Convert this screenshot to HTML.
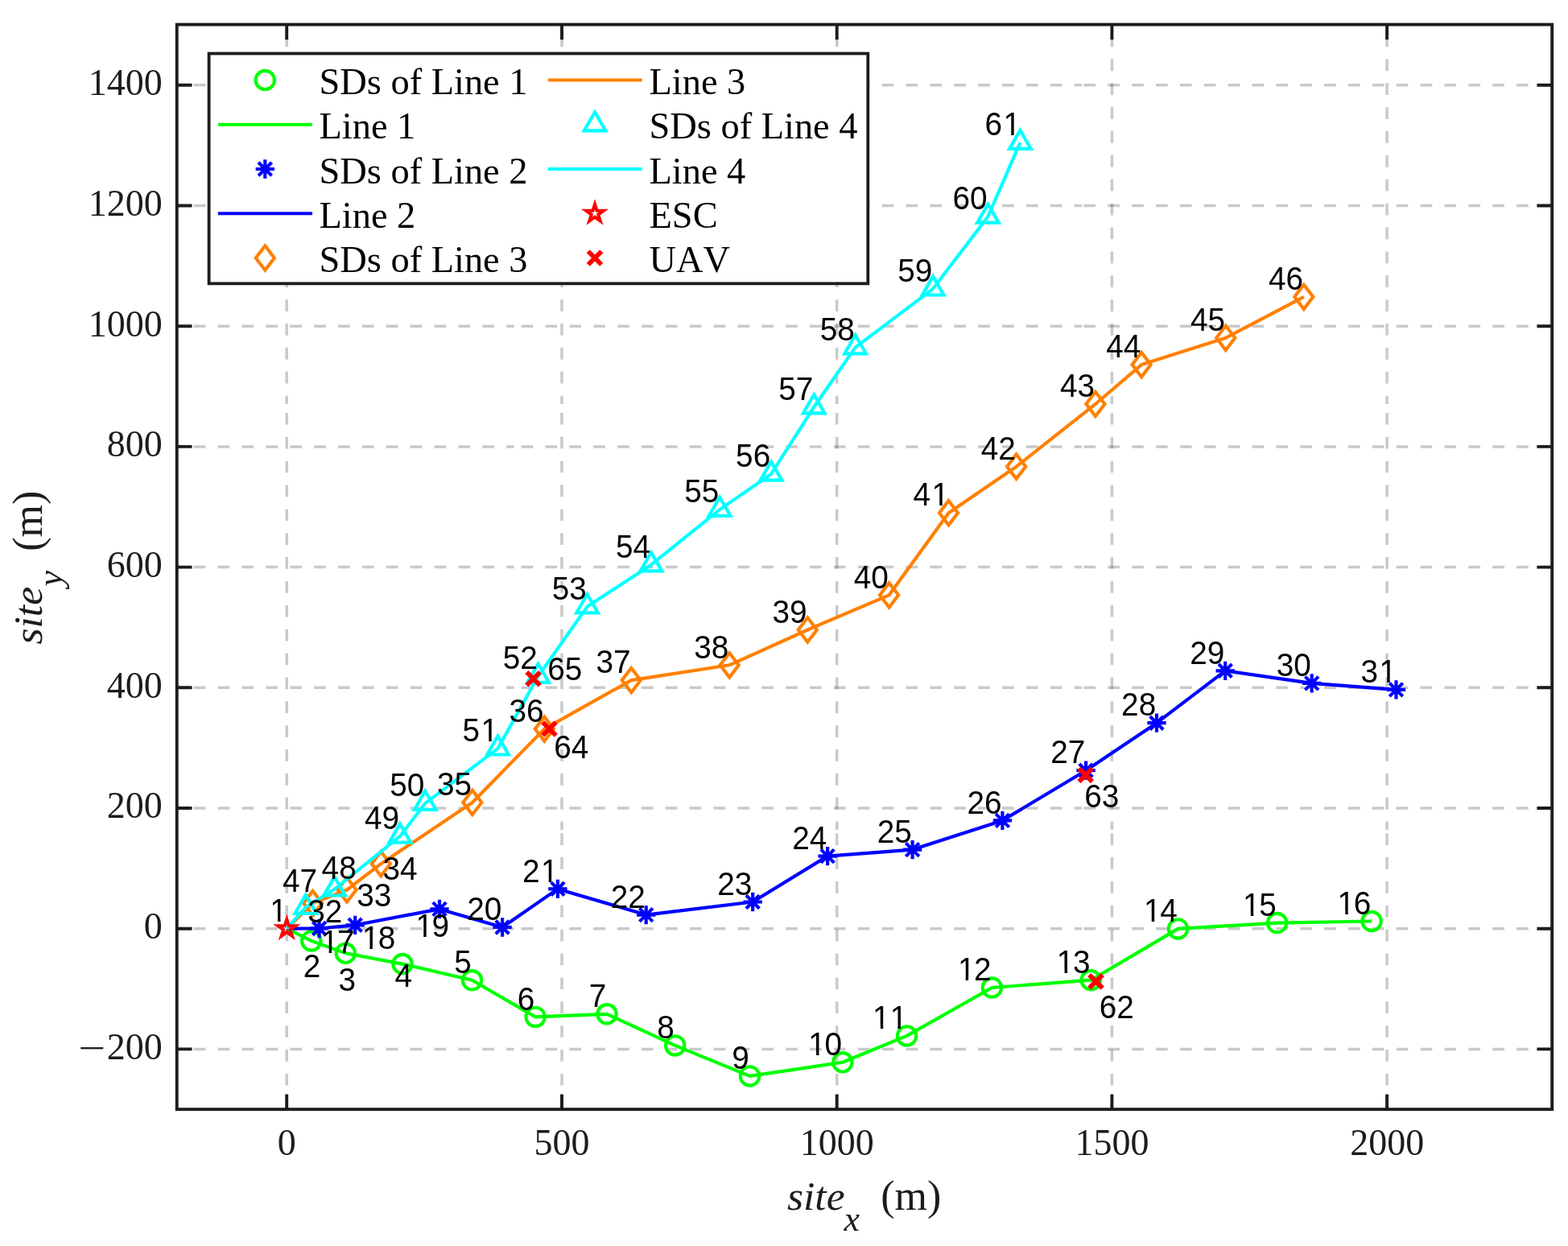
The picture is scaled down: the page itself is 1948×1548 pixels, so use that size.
<!DOCTYPE html>
<html lang="en"><head><meta charset="utf-8"><title>Site layout of lines, SDs, ESC and UAV</title>
<style>html,body{margin:0;padding:0;background:#fff}body{width:1948px;height:1548px;overflow:hidden}svg{display:block}text{font-kerning:none}.tk{font-family:"Liberation Serif",serif;font-size:46px;fill:#1c1c1c}.lg{font-family:"Liberation Serif",serif;font-size:46.4px;fill:#000}.dl{font-family:"Liberation Sans",sans-serif;font-size:41.3px;fill:#000;font-kerning:none}.al{font-family:"Liberation Serif",serif;fill:#1c1c1c}</style></head><body>
<svg width="1948" height="1548" viewBox="0 0 1948 1548" role="img" aria-label="Site layout plot">
<rect width="1948" height="1548" fill="#fff"/>
<path fill="none" stroke="#262626" stroke-opacity="0.25" stroke-width="3.5" d="M356.2 43.63V58.33M356.2 73.5V88.2M356.2 103.37V118.07M356.2 133.24V147.94M356.2 163.11V177.81M356.2 192.98V207.68M356.2 222.85V237.55M356.2 252.72V267.42M356.2 282.59V297.29M356.2 312.46V327.16M356.2 342.33V357.03M356.2 372.2V386.9M356.2 402.07V416.77M356.2 431.94V446.64M356.2 461.81V476.51M356.2 491.68V502M356.2 512.9V527.6M356.2 542.77V557.47M356.2 572.64V587.34M356.2 602.51V617.21M356.2 632.38V647.08M356.2 662.25V676.95M356.2 692.12V706.82M356.2 721.99V736.69M356.2 751.86V766.56M356.2 781.73V796.43M356.2 811.6V826.3M356.2 841.47V856.17M356.2 871.34V886.04M356.2 901.21V915.91M356.2 931.08V945.78M356.2 960.95V975.65M356.2 990.82V1005.52M356.2 1020.69V1031M356.2 1035.2V1049.9M356.2 1065.07V1079.77M356.2 1094.94V1109.64M356.2 1124.81V1139.51M356.2 1154.68V1169.38M356.2 1184.55V1199.25M356.2 1214.42V1229.12M356.2 1244.29V1258.99M356.2 1274.16V1288.86M356.2 1304.03V1318.73M356.2 1333.9V1348.6M356.2 1363.77V1378.2M698 43.63V58.33M698 73.5V88.2M698 103.37V118.07M698 133.24V147.94M698 163.11V177.81M698 192.98V207.68M698 222.85V237.55M698 252.72V267.42M698 282.59V297.29M698 312.46V327.16M698 342.33V357.03M698 372.2V386.9M698 402.07V416.77M698 431.94V446.64M698 461.81V476.51M698 491.68V502M698 512.9V527.6M698 542.77V557.47M698 572.64V587.34M698 602.51V617.21M698 632.38V647.08M698 662.25V676.95M698 692.12V706.82M698 721.99V736.69M698 751.86V766.56M698 781.73V796.43M698 811.6V826.3M698 841.47V856.17M698 871.34V886.04M698 901.21V915.91M698 931.08V945.78M698 960.95V975.65M698 990.82V1005.52M698 1020.69V1031M698 1035.2V1049.9M698 1065.07V1079.77M698 1094.94V1109.64M698 1124.81V1139.51M698 1154.68V1169.38M698 1184.55V1199.25M698 1214.42V1229.12M698 1244.29V1258.99M698 1274.16V1288.86M698 1304.03V1318.73M698 1333.9V1348.6M698 1363.77V1378.2M1039.7 43.63V58.33M1039.7 73.5V88.2M1039.7 103.37V118.07M1039.7 133.24V147.94M1039.7 163.11V177.81M1039.7 192.98V207.68M1039.7 222.85V237.55M1039.7 252.72V267.42M1039.7 282.59V297.29M1039.7 312.46V327.16M1039.7 342.33V357.03M1039.7 372.2V386.9M1039.7 402.07V416.77M1039.7 431.94V446.64M1039.7 461.81V476.51M1039.7 491.68V502M1039.7 512.9V527.6M1039.7 542.77V557.47M1039.7 572.64V587.34M1039.7 602.51V617.21M1039.7 632.38V647.08M1039.7 662.25V676.95M1039.7 692.12V706.82M1039.7 721.99V736.69M1039.7 751.86V766.56M1039.7 781.73V796.43M1039.7 811.6V826.3M1039.7 841.47V856.17M1039.7 871.34V886.04M1039.7 901.21V915.91M1039.7 931.08V945.78M1039.7 960.95V975.65M1039.7 990.82V1005.52M1039.7 1020.69V1031M1039.7 1035.2V1049.9M1039.7 1065.07V1079.77M1039.7 1094.94V1109.64M1039.7 1124.81V1139.51M1039.7 1154.68V1169.38M1039.7 1184.55V1199.25M1039.7 1214.42V1229.12M1039.7 1244.29V1258.99M1039.7 1274.16V1288.86M1039.7 1304.03V1318.73M1039.7 1333.9V1348.6M1039.7 1363.77V1378.2M1381.4 43.63V58.33M1381.4 73.5V88.2M1381.4 103.37V118.07M1381.4 133.24V147.94M1381.4 163.11V177.81M1381.4 192.98V207.68M1381.4 222.85V237.55M1381.4 252.72V267.42M1381.4 282.59V297.29M1381.4 312.46V327.16M1381.4 342.33V357.03M1381.4 372.2V386.9M1381.4 402.07V416.77M1381.4 431.94V446.64M1381.4 461.81V476.51M1381.4 491.68V502M1381.4 512.9V527.6M1381.4 542.77V557.47M1381.4 572.64V587.34M1381.4 602.51V617.21M1381.4 632.38V647.08M1381.4 662.25V676.95M1381.4 692.12V706.82M1381.4 721.99V736.69M1381.4 751.86V766.56M1381.4 781.73V796.43M1381.4 811.6V826.3M1381.4 841.47V856.17M1381.4 871.34V886.04M1381.4 901.21V915.91M1381.4 931.08V945.78M1381.4 960.95V975.65M1381.4 990.82V1005.52M1381.4 1020.69V1031M1381.4 1035.2V1049.9M1381.4 1065.07V1079.77M1381.4 1094.94V1109.64M1381.4 1124.81V1139.51M1381.4 1154.68V1169.38M1381.4 1184.55V1199.25M1381.4 1214.42V1229.12M1381.4 1244.29V1258.99M1381.4 1274.16V1288.86M1381.4 1304.03V1318.73M1381.4 1333.9V1348.6M1381.4 1363.77V1378.2M1723.1 43.63V58.33M1723.1 73.5V88.2M1723.1 103.37V118.07M1723.1 133.24V147.94M1723.1 163.11V177.81M1723.1 192.98V207.68M1723.1 222.85V237.55M1723.1 252.72V267.42M1723.1 282.59V297.29M1723.1 312.46V327.16M1723.1 342.33V357.03M1723.1 372.2V386.9M1723.1 402.07V416.77M1723.1 431.94V446.64M1723.1 461.81V476.51M1723.1 491.68V502M1723.1 512.9V527.6M1723.1 542.77V557.47M1723.1 572.64V587.34M1723.1 602.51V617.21M1723.1 632.38V647.08M1723.1 662.25V676.95M1723.1 692.12V706.82M1723.1 721.99V736.69M1723.1 751.86V766.56M1723.1 781.73V796.43M1723.1 811.6V826.3M1723.1 841.47V856.17M1723.1 871.34V886.04M1723.1 901.21V915.91M1723.1 931.08V945.78M1723.1 960.95V975.65M1723.1 990.82V1005.52M1723.1 1020.69V1031M1723.1 1035.2V1049.9M1723.1 1065.07V1079.77M1723.1 1094.94V1109.64M1723.1 1124.81V1139.51M1723.1 1154.68V1169.38M1723.1 1184.55V1199.25M1723.1 1214.42V1229.12M1723.1 1244.29V1258.99M1723.1 1274.16V1288.86M1723.1 1304.03V1318.73M1723.1 1333.9V1348.6M1723.1 1363.77V1378.2"/>
<path fill="none" stroke="#262626" stroke-opacity="0.25" stroke-width="3.5" d="M219.75 105.8H225.63M240.8 105.8H255.5M270.67 105.8H285.37M300.54 105.8H315.24M330.41 105.8H345.11M360.28 105.8H374.98M390.15 105.8H404.85M420.02 105.8H434.72M449.89 105.8H464.59M479.76 105.8H494.46M509.63 105.8H524.33M539.5 105.8H554.2M569.37 105.8H584.07M599.24 105.8H613.94M629.11 105.8H638.6M647.6 105.8H662.3M677.47 105.8H692.17M707.34 105.8H722.04M737.21 105.8H751.91M767.08 105.8H781.78M796.95 105.8H811.65M826.82 105.8H841.52M856.69 105.8H871.39M886.56 105.8H901.26M916.43 105.8H931.13M946.3 105.8H961M976.17 105.8H990.87M1006.04 105.8H1020.74M1035.91 105.8H1050.61M1065.78 105.8H1080.48M1095.65 105.8H1110.35M1125.52 105.8H1140.22M1155.39 105.8H1170.09M1185.26 105.8H1199.96M1215.13 105.8H1229.83M1245 105.8H1259.7M1274.87 105.8H1289.57M1304.74 105.8H1319.44M1334.61 105.8H1343.9M1346.4 105.8H1361.1M1376.27 105.8H1390.97M1406.14 105.8H1420.84M1436.01 105.8H1450.71M1465.88 105.8H1480.58M1495.75 105.8H1510.45M1525.62 105.8H1540.32M1555.49 105.8H1570.19M1585.36 105.8H1600.06M1615.23 105.8H1629.93M1645.1 105.8H1659.8M1674.97 105.8H1689.67M1704.84 105.8H1719.54M1734.71 105.8H1749.41M1764.58 105.8H1779.28M1794.45 105.8H1809.15M1824.32 105.8H1839.02M1854.19 105.8H1868.89M1884.06 105.8H1898.76M1913.93 105.8H1928.2M219.75 255.5H225.63M240.8 255.5H255.5M270.67 255.5H285.37M300.54 255.5H315.24M330.41 255.5H345.11M360.28 255.5H374.98M390.15 255.5H404.85M420.02 255.5H434.72M449.89 255.5H464.59M479.76 255.5H494.46M509.63 255.5H524.33M539.5 255.5H554.2M569.37 255.5H584.07M599.24 255.5H613.94M629.11 255.5H638.6M647.6 255.5H662.3M677.47 255.5H692.17M707.34 255.5H722.04M737.21 255.5H751.91M767.08 255.5H781.78M796.95 255.5H811.65M826.82 255.5H841.52M856.69 255.5H871.39M886.56 255.5H901.26M916.43 255.5H931.13M946.3 255.5H961M976.17 255.5H990.87M1006.04 255.5H1020.74M1035.91 255.5H1050.61M1065.78 255.5H1080.48M1095.65 255.5H1110.35M1125.52 255.5H1140.22M1155.39 255.5H1170.09M1185.26 255.5H1199.96M1215.13 255.5H1229.83M1245 255.5H1259.7M1274.87 255.5H1289.57M1304.74 255.5H1319.44M1334.61 255.5H1343.9M1346.4 255.5H1361.1M1376.27 255.5H1390.97M1406.14 255.5H1420.84M1436.01 255.5H1450.71M1465.88 255.5H1480.58M1495.75 255.5H1510.45M1525.62 255.5H1540.32M1555.49 255.5H1570.19M1585.36 255.5H1600.06M1615.23 255.5H1629.93M1645.1 255.5H1659.8M1674.97 255.5H1689.67M1704.84 255.5H1719.54M1734.71 255.5H1749.41M1764.58 255.5H1779.28M1794.45 255.5H1809.15M1824.32 255.5H1839.02M1854.19 255.5H1868.89M1884.06 255.5H1898.76M1913.93 255.5H1928.2M219.75 405.2H225.63M240.8 405.2H255.5M270.67 405.2H285.37M300.54 405.2H315.24M330.41 405.2H345.11M360.28 405.2H374.98M390.15 405.2H404.85M420.02 405.2H434.72M449.89 405.2H464.59M479.76 405.2H494.46M509.63 405.2H524.33M539.5 405.2H554.2M569.37 405.2H584.07M599.24 405.2H613.94M629.11 405.2H638.6M647.6 405.2H662.3M677.47 405.2H692.17M707.34 405.2H722.04M737.21 405.2H751.91M767.08 405.2H781.78M796.95 405.2H811.65M826.82 405.2H841.52M856.69 405.2H871.39M886.56 405.2H901.26M916.43 405.2H931.13M946.3 405.2H961M976.17 405.2H990.87M1006.04 405.2H1020.74M1035.91 405.2H1050.61M1065.78 405.2H1080.48M1095.65 405.2H1110.35M1125.52 405.2H1140.22M1155.39 405.2H1170.09M1185.26 405.2H1199.96M1215.13 405.2H1229.83M1245 405.2H1259.7M1274.87 405.2H1289.57M1304.74 405.2H1319.44M1334.61 405.2H1343.9M1346.4 405.2H1361.1M1376.27 405.2H1390.97M1406.14 405.2H1420.84M1436.01 405.2H1450.71M1465.88 405.2H1480.58M1495.75 405.2H1510.45M1525.62 405.2H1540.32M1555.49 405.2H1570.19M1585.36 405.2H1600.06M1615.23 405.2H1629.93M1645.1 405.2H1659.8M1674.97 405.2H1689.67M1704.84 405.2H1719.54M1734.71 405.2H1749.41M1764.58 405.2H1779.28M1794.45 405.2H1809.15M1824.32 405.2H1839.02M1854.19 405.2H1868.89M1884.06 405.2H1898.76M1913.93 405.2H1928.2M219.75 554.9H225.63M240.8 554.9H255.5M270.67 554.9H285.37M300.54 554.9H315.24M330.41 554.9H345.11M360.28 554.9H374.98M390.15 554.9H404.85M420.02 554.9H434.72M449.89 554.9H464.59M479.76 554.9H494.46M509.63 554.9H524.33M539.5 554.9H554.2M569.37 554.9H584.07M599.24 554.9H613.94M629.11 554.9H638.6M647.6 554.9H662.3M677.47 554.9H692.17M707.34 554.9H722.04M737.21 554.9H751.91M767.08 554.9H781.78M796.95 554.9H811.65M826.82 554.9H841.52M856.69 554.9H871.39M886.56 554.9H901.26M916.43 554.9H931.13M946.3 554.9H961M976.17 554.9H990.87M1006.04 554.9H1020.74M1035.91 554.9H1050.61M1065.78 554.9H1080.48M1095.65 554.9H1110.35M1125.52 554.9H1140.22M1155.39 554.9H1170.09M1185.26 554.9H1199.96M1215.13 554.9H1229.83M1245 554.9H1259.7M1274.87 554.9H1289.57M1304.74 554.9H1319.44M1334.61 554.9H1343.9M1346.4 554.9H1361.1M1376.27 554.9H1390.97M1406.14 554.9H1420.84M1436.01 554.9H1450.71M1465.88 554.9H1480.58M1495.75 554.9H1510.45M1525.62 554.9H1540.32M1555.49 554.9H1570.19M1585.36 554.9H1600.06M1615.23 554.9H1629.93M1645.1 554.9H1659.8M1674.97 554.9H1689.67M1704.84 554.9H1719.54M1734.71 554.9H1749.41M1764.58 554.9H1779.28M1794.45 554.9H1809.15M1824.32 554.9H1839.02M1854.19 554.9H1868.89M1884.06 554.9H1898.76M1913.93 554.9H1928.2M219.75 704.6H225.63M240.8 704.6H255.5M270.67 704.6H285.37M300.54 704.6H315.24M330.41 704.6H345.11M360.28 704.6H374.98M390.15 704.6H404.85M420.02 704.6H434.72M449.89 704.6H464.59M479.76 704.6H494.46M509.63 704.6H524.33M539.5 704.6H554.2M569.37 704.6H584.07M599.24 704.6H613.94M629.11 704.6H638.6M647.6 704.6H662.3M677.47 704.6H692.17M707.34 704.6H722.04M737.21 704.6H751.91M767.08 704.6H781.78M796.95 704.6H811.65M826.82 704.6H841.52M856.69 704.6H871.39M886.56 704.6H901.26M916.43 704.6H931.13M946.3 704.6H961M976.17 704.6H990.87M1006.04 704.6H1020.74M1035.91 704.6H1050.61M1065.78 704.6H1080.48M1095.65 704.6H1110.35M1125.52 704.6H1140.22M1155.39 704.6H1170.09M1185.26 704.6H1199.96M1215.13 704.6H1229.83M1245 704.6H1259.7M1274.87 704.6H1289.57M1304.74 704.6H1319.44M1334.61 704.6H1343.9M1346.4 704.6H1361.1M1376.27 704.6H1390.97M1406.14 704.6H1420.84M1436.01 704.6H1450.71M1465.88 704.6H1480.58M1495.75 704.6H1510.45M1525.62 704.6H1540.32M1555.49 704.6H1570.19M1585.36 704.6H1600.06M1615.23 704.6H1629.93M1645.1 704.6H1659.8M1674.97 704.6H1689.67M1704.84 704.6H1719.54M1734.71 704.6H1749.41M1764.58 704.6H1779.28M1794.45 704.6H1809.15M1824.32 704.6H1839.02M1854.19 704.6H1868.89M1884.06 704.6H1898.76M1913.93 704.6H1928.2M219.75 854.3H225.63M240.8 854.3H255.5M270.67 854.3H285.37M300.54 854.3H315.24M330.41 854.3H345.11M360.28 854.3H374.98M390.15 854.3H404.85M420.02 854.3H434.72M449.89 854.3H464.59M479.76 854.3H494.46M509.63 854.3H524.33M539.5 854.3H554.2M569.37 854.3H584.07M599.24 854.3H613.94M629.11 854.3H638.6M647.6 854.3H662.3M677.47 854.3H692.17M707.34 854.3H722.04M737.21 854.3H751.91M767.08 854.3H781.78M796.95 854.3H811.65M826.82 854.3H841.52M856.69 854.3H871.39M886.56 854.3H901.26M916.43 854.3H931.13M946.3 854.3H961M976.17 854.3H990.87M1006.04 854.3H1020.74M1035.91 854.3H1050.61M1065.78 854.3H1080.48M1095.65 854.3H1110.35M1125.52 854.3H1140.22M1155.39 854.3H1170.09M1185.26 854.3H1199.96M1215.13 854.3H1229.83M1245 854.3H1259.7M1274.87 854.3H1289.57M1304.74 854.3H1319.44M1334.61 854.3H1343.9M1346.4 854.3H1361.1M1376.27 854.3H1390.97M1406.14 854.3H1420.84M1436.01 854.3H1450.71M1465.88 854.3H1480.58M1495.75 854.3H1510.45M1525.62 854.3H1540.32M1555.49 854.3H1570.19M1585.36 854.3H1600.06M1615.23 854.3H1629.93M1645.1 854.3H1659.8M1674.97 854.3H1689.67M1704.84 854.3H1719.54M1734.71 854.3H1749.41M1764.58 854.3H1779.28M1794.45 854.3H1809.15M1824.32 854.3H1839.02M1854.19 854.3H1868.89M1884.06 854.3H1898.76M1913.93 854.3H1928.2M219.75 1004H225.63M240.8 1004H255.5M270.67 1004H285.37M300.54 1004H315.24M330.41 1004H345.11M360.28 1004H374.98M390.15 1004H404.85M420.02 1004H434.72M449.89 1004H464.59M479.76 1004H494.46M509.63 1004H524.33M539.5 1004H554.2M569.37 1004H584.07M599.24 1004H613.94M629.11 1004H638.6M647.6 1004H662.3M677.47 1004H692.17M707.34 1004H722.04M737.21 1004H751.91M767.08 1004H781.78M796.95 1004H811.65M826.82 1004H841.52M856.69 1004H871.39M886.56 1004H901.26M916.43 1004H931.13M946.3 1004H961M976.17 1004H990.87M1006.04 1004H1020.74M1035.91 1004H1050.61M1065.78 1004H1080.48M1095.65 1004H1110.35M1125.52 1004H1140.22M1155.39 1004H1170.09M1185.26 1004H1199.96M1215.13 1004H1229.83M1245 1004H1259.7M1274.87 1004H1289.57M1304.74 1004H1319.44M1334.61 1004H1343.9M1346.4 1004H1361.1M1376.27 1004H1390.97M1406.14 1004H1420.84M1436.01 1004H1450.71M1465.88 1004H1480.58M1495.75 1004H1510.45M1525.62 1004H1540.32M1555.49 1004H1570.19M1585.36 1004H1600.06M1615.23 1004H1629.93M1645.1 1004H1659.8M1674.97 1004H1689.67M1704.84 1004H1719.54M1734.71 1004H1749.41M1764.58 1004H1779.28M1794.45 1004H1809.15M1824.32 1004H1839.02M1854.19 1004H1868.89M1884.06 1004H1898.76M1913.93 1004H1928.2M219.75 1153.7H225.63M240.8 1153.7H255.5M270.67 1153.7H285.37M300.54 1153.7H315.24M330.41 1153.7H345.11M360.28 1153.7H374.98M390.15 1153.7H404.85M420.02 1153.7H434.72M449.89 1153.7H464.59M479.76 1153.7H494.46M509.63 1153.7H524.33M539.5 1153.7H554.2M569.37 1153.7H584.07M599.24 1153.7H613.94M629.11 1153.7H638.6M647.6 1153.7H662.3M677.47 1153.7H692.17M707.34 1153.7H722.04M737.21 1153.7H751.91M767.08 1153.7H781.78M796.95 1153.7H811.65M826.82 1153.7H841.52M856.69 1153.7H871.39M886.56 1153.7H901.26M916.43 1153.7H931.13M946.3 1153.7H961M976.17 1153.7H990.87M1006.04 1153.7H1020.74M1035.91 1153.7H1050.61M1065.78 1153.7H1080.48M1095.65 1153.7H1110.35M1125.52 1153.7H1140.22M1155.39 1153.7H1170.09M1185.26 1153.7H1199.96M1215.13 1153.7H1229.83M1245 1153.7H1259.7M1274.87 1153.7H1289.57M1304.74 1153.7H1319.44M1334.61 1153.7H1343.9M1346.4 1153.7H1361.1M1376.27 1153.7H1390.97M1406.14 1153.7H1420.84M1436.01 1153.7H1450.71M1465.88 1153.7H1480.58M1495.75 1153.7H1510.45M1525.62 1153.7H1540.32M1555.49 1153.7H1570.19M1585.36 1153.7H1600.06M1615.23 1153.7H1629.93M1645.1 1153.7H1659.8M1674.97 1153.7H1689.67M1704.84 1153.7H1719.54M1734.71 1153.7H1749.41M1764.58 1153.7H1779.28M1794.45 1153.7H1809.15M1824.32 1153.7H1839.02M1854.19 1153.7H1868.89M1884.06 1153.7H1898.76M1913.93 1153.7H1928.2M219.75 1303.4H225.63M240.8 1303.4H255.5M270.67 1303.4H285.37M300.54 1303.4H315.24M330.41 1303.4H345.11M360.28 1303.4H374.98M390.15 1303.4H404.85M420.02 1303.4H434.72M449.89 1303.4H464.59M479.76 1303.4H494.46M509.63 1303.4H524.33M539.5 1303.4H554.2M569.37 1303.4H584.07M599.24 1303.4H613.94M629.11 1303.4H638.6M647.6 1303.4H662.3M677.47 1303.4H692.17M707.34 1303.4H722.04M737.21 1303.4H751.91M767.08 1303.4H781.78M796.95 1303.4H811.65M826.82 1303.4H841.52M856.69 1303.4H871.39M886.56 1303.4H901.26M916.43 1303.4H931.13M946.3 1303.4H961M976.17 1303.4H990.87M1006.04 1303.4H1020.74M1035.91 1303.4H1050.61M1065.78 1303.4H1080.48M1095.65 1303.4H1110.35M1125.52 1303.4H1140.22M1155.39 1303.4H1170.09M1185.26 1303.4H1199.96M1215.13 1303.4H1229.83M1245 1303.4H1259.7M1274.87 1303.4H1289.57M1304.74 1303.4H1319.44M1334.61 1303.4H1343.9M1346.4 1303.4H1361.1M1376.27 1303.4H1390.97M1406.14 1303.4H1420.84M1436.01 1303.4H1450.71M1465.88 1303.4H1480.58M1495.75 1303.4H1510.45M1525.62 1303.4H1540.32M1555.49 1303.4H1570.19M1585.36 1303.4H1600.06M1615.23 1303.4H1629.93M1645.1 1303.4H1659.8M1674.97 1303.4H1689.67M1704.84 1303.4H1719.54M1734.71 1303.4H1749.41M1764.58 1303.4H1779.28M1794.45 1303.4H1809.15M1824.32 1303.4H1839.02M1854.19 1303.4H1868.89M1884.06 1303.4H1898.76M1913.93 1303.4H1928.2"/>
<g fill="none" stroke="#1c1c1c" stroke-width="3.9">
<rect x="219.75" y="30.5" width="1708.45" height="1347.7"/>
<path d="M356.2 1378.2v-18.8M356.2 30.5v18.8M698 1378.2v-18.8M698 30.5v18.8M1039.7 1378.2v-18.8M1039.7 30.5v18.8M1381.4 1378.2v-18.8M1381.4 30.5v18.8M1723.1 1378.2v-18.8M1723.1 30.5v18.8M219.75 105.8h18.8M1928.2 105.8h-18.8M219.75 255.5h18.8M1928.2 255.5h-18.8M219.75 405.2h18.8M1928.2 405.2h-18.8M219.75 554.9h18.8M1928.2 554.9h-18.8M219.75 704.6h18.8M1928.2 704.6h-18.8M219.75 854.3h18.8M1928.2 854.3h-18.8M219.75 1004h18.8M1928.2 1004h-18.8M219.75 1153.7h18.8M1928.2 1153.7h-18.8M219.75 1303.4h18.8M1928.2 1303.4h-18.8"/>
</g>
<g fill="none" stroke="#00ff00" stroke-width="4.17" ><circle cx="386.8" cy="1168.9" r="11.67"/><circle cx="429.3" cy="1184.3" r="11.67"/><circle cx="500" cy="1197.6" r="11.67"/><circle cx="586.5" cy="1217.8" r="11.67"/><circle cx="665.1" cy="1263.4" r="11.67"/><circle cx="754" cy="1259.8" r="11.67"/><circle cx="838.7" cy="1298.9" r="11.67"/><circle cx="931.5" cy="1336.9" r="11.67"/><circle cx="1046.8" cy="1319.8" r="11.67"/><circle cx="1126.6" cy="1286.9" r="11.67"/><circle cx="1232.4" cy="1227" r="11.67"/><circle cx="1355.3" cy="1217.7" r="11.67"/><circle cx="1463.5" cy="1153.9" r="11.67"/><circle cx="1586.6" cy="1146.6" r="11.67"/><circle cx="1704.1" cy="1144.5" r="11.67"/></g>
<g fill="none" stroke="#00ff00" stroke-width="4.17" stroke-linejoin="round"><path d="M356.3 1153.7L386.8 1168.9L429.3 1184.3L500 1197.6L586.5 1217.8L665.1 1263.4L754 1259.8L838.7 1298.9L931.5 1336.9L1046.8 1319.8L1126.6 1286.9L1232.4 1227L1355.3 1217.7L1463.5 1153.9L1586.6 1146.6L1704.1 1144.5"/></g>
<g fill="none" stroke="#0000ff" stroke-width="4.17" ><path d="M384.93 1153.5L408.27 1153.5M388.35 1145.25L404.85 1161.75M396.6 1141.83L396.6 1165.17M404.85 1145.25L388.35 1161.75"/><path d="M429.53 1149.3L452.87 1149.3M432.95 1141.05L449.45 1157.55M441.2 1137.63L441.2 1160.97M449.45 1141.05L432.95 1157.55"/><path d="M534.33 1129.4L557.67 1129.4M537.75 1121.15L554.25 1137.65M546 1117.73L546 1141.07M554.25 1121.15L537.75 1137.65"/><path d="M612.43 1152L635.77 1152M615.85 1143.75L632.35 1160.25M624.1 1140.33L624.1 1163.67M632.35 1143.75L615.85 1160.25"/><path d="M681.23 1104.4L704.57 1104.4M684.65 1096.15L701.15 1112.65M692.9 1092.73L692.9 1116.07M701.15 1096.15L684.65 1112.65"/><path d="M791.03 1136.6L814.37 1136.6M794.45 1128.35L810.95 1144.85M802.7 1124.93L802.7 1148.27M810.95 1128.35L794.45 1144.85"/><path d="M923.53 1120.5L946.87 1120.5M926.95 1112.25L943.45 1128.75M935.2 1108.83L935.2 1132.17M943.45 1112.25L926.95 1128.75"/><path d="M1016.43 1063.6L1039.77 1063.6M1019.85 1055.35L1036.35 1071.85M1028.1 1051.93L1028.1 1075.27M1036.35 1055.35L1019.85 1071.85"/><path d="M1121.93 1055.6L1145.27 1055.6M1125.35 1047.35L1141.85 1063.85M1133.6 1043.93L1133.6 1067.27M1141.85 1047.35L1125.35 1063.85"/><path d="M1233.73 1019.4L1257.07 1019.4M1237.15 1011.15L1253.65 1027.65M1245.4 1007.73L1245.4 1031.07M1253.65 1011.15L1237.15 1027.65"/><path d="M1337.43 957.2L1360.77 957.2M1340.85 948.95L1357.35 965.45M1349.1 945.53L1349.1 968.87M1357.35 948.95L1340.85 965.45"/><path d="M1425.33 898.2L1448.67 898.2M1428.75 889.95L1445.25 906.45M1437 886.53L1437 909.87M1445.25 889.95L1428.75 906.45"/><path d="M1510.53 833.3L1533.87 833.3M1513.95 825.05L1530.45 841.55M1522.2 821.63L1522.2 844.97M1530.45 825.05L1513.95 841.55"/><path d="M1618.03 848.9L1641.37 848.9M1621.45 840.65L1637.95 857.15M1629.7 837.23L1629.7 860.57M1637.95 840.65L1621.45 857.15"/><path d="M1722.83 856.9L1746.17 856.9M1726.25 848.65L1742.75 865.15M1734.5 845.23L1734.5 868.57M1742.75 848.65L1726.25 865.15"/></g>
<g fill="none" stroke="#0000ff" stroke-width="4.17" stroke-linejoin="round"><path d="M356.3 1153.7L396.6 1153.5L441.2 1149.3L546 1129.4L624.1 1152L692.9 1104.4L802.7 1136.6L935.2 1120.5L1028.1 1063.6L1133.6 1055.6L1245.4 1019.4L1349.1 957.2L1437 898.2L1522.2 833.3L1629.7 848.9L1734.5 856.9"/></g>
<g fill="none" stroke="#ff8000" stroke-width="4.17" stroke-miterlimit="10"><path d="M388.6 1106.95L400.15 1122.1L388.6 1137.25L377.05 1122.1Z"/><path d="M431 1090.35L442.55 1105.5L431 1120.65L419.45 1105.5Z"/><path d="M473.3 1058.05L484.85 1073.2L473.3 1088.35L461.75 1073.2Z"/><path d="M586.8 981.85L598.35 997L586.8 1012.15L575.25 997Z"/><path d="M676.3 890.45L687.85 905.6L676.3 920.75L664.75 905.6Z"/><path d="M784.3 829.95L795.85 845.1L784.3 860.25L772.75 845.1Z"/><path d="M906.2 811.15L917.75 826.3L906.2 841.45L894.65 826.3Z"/><path d="M1003.3 767.35L1014.85 782.5L1003.3 797.65L991.75 782.5Z"/><path d="M1104.6 724.15L1116.15 739.3L1104.6 754.45L1093.05 739.3Z"/><path d="M1178.5 622.05L1190.05 637.2L1178.5 652.35L1166.95 637.2Z"/><path d="M1262.6 564.55L1274.15 579.7L1262.6 594.85L1251.05 579.7Z"/><path d="M1360.9 486.85L1372.45 502L1360.9 517.15L1349.35 502Z"/><path d="M1418.1 437.95L1429.65 453.1L1418.1 468.25L1406.55 453.1Z"/><path d="M1522.8 404.65L1534.35 419.8L1522.8 434.95L1511.25 419.8Z"/><path d="M1619.8 353.65L1631.35 368.8L1619.8 383.95L1608.25 368.8Z"/></g>
<g fill="none" stroke="#ff8000" stroke-width="4.17" stroke-linejoin="round"><path d="M356.3 1153.7L388.6 1122.1L431 1105.5L473.3 1073.2L586.8 997L676.3 905.6L784.3 845.1L906.2 826.3L1003.3 782.5L1104.6 739.3L1178.5 637.2L1262.6 579.7L1360.9 502L1418.1 453.1L1522.8 419.8L1619.8 368.8"/></g>
<g fill="none" stroke="#00ffff" stroke-width="4.17" stroke-miterlimit="10"><path d="M379.8 1111.7L393.14 1134.8L366.46 1134.8Z"/><path d="M415.5 1089.4L428.84 1112.5L402.16 1112.5Z"/><path d="M496.9 1023.5L510.24 1046.6L483.56 1046.6Z"/><path d="M528.2 982.7L541.54 1005.8L514.86 1005.8Z"/><path d="M618.5 914.4L631.84 937.5L605.16 937.5Z"/><path d="M668.6 824.7L681.94 847.8L655.26 847.8Z"/><path d="M729.6 738.2L742.94 761.3L716.26 761.3Z"/><path d="M808.9 686.3L822.24 709.4L795.56 709.4Z"/><path d="M894.1 617.7L907.44 640.8L880.76 640.8Z"/><path d="M958 573.6L971.34 596.7L944.66 596.7Z"/><path d="M1011.2 490.3L1024.54 513.4L997.86 513.4Z"/><path d="M1062.6 416.2L1075.94 439.3L1049.26 439.3Z"/><path d="M1159.1 343.4L1172.44 366.5L1145.76 366.5Z"/><path d="M1227.4 253.6L1240.74 276.7L1214.06 276.7Z"/><path d="M1267.4 161.8L1280.74 184.9L1254.06 184.9Z"/></g>
<g fill="none" stroke="#00ffff" stroke-width="4.17" stroke-linejoin="round"><path d="M356.3 1153.7L379.8 1127.1L415.5 1104.8L496.9 1038.9L528.2 998.1L618.5 929.8L668.6 840.1L729.6 753.6L808.9 701.7L894.1 633.1L958 589L1011.2 505.7L1062.6 431.6L1159.1 358.8L1227.4 269L1267.4 177.2"/></g>
<g fill="none" stroke="#ff0000" stroke-width="4.0" stroke-miterlimit="10"><path d="M356.3 1142.2L358.88 1150.15L367.24 1150.15L360.48 1155.06L363.06 1163L356.3 1158.09L349.54 1163L352.12 1155.06L345.36 1150.15L353.72 1150.15Z"/></g>
<g fill="none" stroke="#ff0000" stroke-width="5.8" ><path d="M1353.25 1211.15L1369.75 1227.65M1353.25 1227.65L1369.75 1211.15"/><path d="M1340.45 954.65L1356.95 971.15M1340.45 971.15L1356.95 954.65"/><path d="M674.25 897.25L690.75 913.75M674.25 913.75L690.75 897.25"/><path d="M654.35 835.05L670.85 851.55M654.35 851.55L670.85 835.05"/></g>
<defs>
<clipPath id="ka"><path clip-rule="evenodd" d="M-9 -45H90V12H-9ZM3.56 -3.69H11.89V2H3.56ZM15.54 -3.69H23.39V2H15.54Z"/></clipPath>
<clipPath id="kb"><path clip-rule="evenodd" d="M-9 -45H90V12H-9ZM26.53 -3.69H34.85V2H26.53ZM38.5 -3.69H46.36V2H38.5Z"/></clipPath>
<clipPath id="kc"><path clip-rule="evenodd" d="M-9 -45H90V12H-9ZM3.56 -3.69H11.89V2H3.56ZM15.54 -3.69H23.39V2H15.54ZM26.53 -3.69H34.85V2H26.53ZM38.5 -3.69H46.36V2H38.5Z"/></clipPath>
</defs>
<g class="dl">
<text transform="translate(333.95 1144.9) scale(0.938 1)" clip-path="url(#ka)" dx="1.5">1</text>
<text transform="translate(376.65 1214.4) scale(0.938 1)">2</text>
<text transform="translate(420.62 1231.2) scale(0.938 1)">3</text>
<text transform="translate(490.61 1225.8) scale(0.938 1)">4</text>
<text transform="translate(564.15 1209) scale(0.938 1)">5</text>
<text transform="translate(642.75 1254.6) scale(0.938 1)">6</text>
<text transform="translate(731.65 1251) scale(0.938 1)">7</text>
<text transform="translate(816.35 1290.1) scale(0.938 1)">8</text>
<text transform="translate(909.15 1328.1) scale(0.938 1)">9</text>
<text transform="translate(1002.91 1311) scale(0.938 1)" clip-path="url(#ka)" dx="1.5 -1.5">10</text>
<text transform="translate(1082.71 1278.1) scale(0.938 1)" clip-path="url(#kc)" dx="1.5 0">11</text>
<text transform="translate(1188.51 1218.2) scale(0.938 1)" clip-path="url(#ka)" dx="1.5 -1.5">12</text>
<text transform="translate(1311.41 1208.9) scale(0.938 1)" clip-path="url(#ka)" dx="1.5 -1.5">13</text>
<text transform="translate(1419.61 1145.1) scale(0.938 1)" clip-path="url(#ka)" dx="1.5 -1.5">14</text>
<text transform="translate(1542.71 1137.8) scale(0.938 1)" clip-path="url(#ka)" dx="1.5 -1.5">15</text>
<text transform="translate(1660.21 1135.7) scale(0.938 1)" clip-path="url(#ka)" dx="1.5 -1.5">16</text>
<text transform="translate(397.48 1183.5) scale(0.938 1)" clip-path="url(#ka)" dx="1.5 -1.5">17</text>
<text transform="translate(448.28 1179) scale(0.938 1)" clip-path="url(#ka)" dx="1.5 -1.5">18</text>
<text transform="translate(515.08 1163.7) scale(0.938 1)" clip-path="url(#ka)" dx="1.5 -1.5">19</text>
<text transform="translate(580.21 1143.2) scale(0.938 1)">20</text>
<text transform="translate(649.01 1095.6) scale(0.938 1)" clip-path="url(#kb)" dx="0 1.5">21</text>
<text transform="translate(758.81 1127.8) scale(0.938 1)">22</text>
<text transform="translate(891.31 1111.7) scale(0.938 1)">23</text>
<text transform="translate(984.21 1054.8) scale(0.938 1)">24</text>
<text transform="translate(1089.71 1046.8) scale(0.938 1)">25</text>
<text transform="translate(1201.51 1010.6) scale(0.938 1)">26</text>
<text transform="translate(1305.21 948.4) scale(0.938 1)">27</text>
<text transform="translate(1393.11 889.4) scale(0.938 1)">28</text>
<text transform="translate(1478.31 824.5) scale(0.938 1)">29</text>
<text transform="translate(1585.81 840.1) scale(0.938 1)">30</text>
<text transform="translate(1690.61 848.1) scale(0.938 1)" clip-path="url(#kb)" dx="0 1.5">31</text>
<text transform="translate(382.22 1146.3) scale(0.938 1)">32</text>
<text transform="translate(443.22 1125.6) scale(0.938 1)">33</text>
<text transform="translate(475.42 1092.5) scale(0.938 1)">34</text>
<text transform="translate(542.91 988.2) scale(0.938 1)">35</text>
<text transform="translate(632.41 896.8) scale(0.938 1)">36</text>
<text transform="translate(740.41 836.3) scale(0.938 1)">37</text>
<text transform="translate(862.31 817.5) scale(0.938 1)">38</text>
<text transform="translate(959.41 773.7) scale(0.938 1)">39</text>
<text transform="translate(1060.71 730.5) scale(0.938 1)">40</text>
<text transform="translate(1134.61 628.4) scale(0.938 1)" clip-path="url(#kb)" dx="0 1.5">41</text>
<text transform="translate(1218.71 570.9) scale(0.938 1)">42</text>
<text transform="translate(1317.01 493.2) scale(0.938 1)">43</text>
<text transform="translate(1374.21 444.3) scale(0.938 1)">44</text>
<text transform="translate(1478.91 411) scale(0.938 1)">45</text>
<text transform="translate(1575.91 360) scale(0.938 1)">46</text>
<text transform="translate(351.01 1108) scale(0.938 1)">47</text>
<text transform="translate(399.61 1092) scale(0.938 1)">48</text>
<text transform="translate(453.01 1030.1) scale(0.938 1)">49</text>
<text transform="translate(484.31 989.3) scale(0.938 1)">50</text>
<text transform="translate(574.61 921) scale(0.938 1)" clip-path="url(#kb)" dx="0 1.5">51</text>
<text transform="translate(624.71 831.3) scale(0.938 1)">52</text>
<text transform="translate(685.71 744.8) scale(0.938 1)">53</text>
<text transform="translate(765.01 692.9) scale(0.938 1)">54</text>
<text transform="translate(850.21 624.3) scale(0.938 1)">55</text>
<text transform="translate(914.11 580.2) scale(0.938 1)">56</text>
<text transform="translate(967.31 496.9) scale(0.938 1)">57</text>
<text transform="translate(1018.71 422.8) scale(0.938 1)">58</text>
<text transform="translate(1115.21 350) scale(0.938 1)">59</text>
<text transform="translate(1183.51 260.2) scale(0.938 1)">60</text>
<text transform="translate(1223.51 168.4) scale(0.938 1)" clip-path="url(#kb)" dx="0 1.5">61</text>
<text transform="translate(1365.63 1264.6) scale(0.938 1)">62</text>
<text transform="translate(1347.13 1003.1) scale(0.938 1)">63</text>
<text transform="translate(688.23 941.9) scale(0.938 1)">64</text>
<text transform="translate(680.33 844.5) scale(0.938 1)">65</text>
</g>
<rect x="259.6" y="66.5" width="818.7" height="285.8" fill="#fff" stroke="#1c1c1c" stroke-width="3.8"/>
<g fill="none" stroke="#00ff00" stroke-width="4.17" ><circle cx="329.3" cy="99.46" r="11.67"/></g>
<g fill="none" stroke="#00ff00" stroke-width="4.17" ><path d="M270.9 154.72H388"/></g>
<g fill="none" stroke="#0000ff" stroke-width="4.17" ><path d="M317.63 209.98L340.97 209.98M321.05 201.73L337.55 218.23M329.3 198.31L329.3 221.65M337.55 201.73L321.05 218.23"/></g>
<g fill="none" stroke="#0000ff" stroke-width="4.17" ><path d="M270.9 265.24H388"/></g>
<g fill="none" stroke="#ff8000" stroke-width="4.17" stroke-miterlimit="10"><path d="M329.3 305.35L340.85 320.5L329.3 335.65L317.75 320.5Z"/></g>
<g fill="none" stroke="#ff8000" stroke-width="4.17" ><path d="M680.8 99.46H797.6"/></g>
<g fill="none" stroke="#00ffff" stroke-width="4.17" stroke-miterlimit="10"><path d="M739 139.32L752.34 162.42L725.66 162.42Z"/></g>
<g fill="none" stroke="#00ffff" stroke-width="4.17" ><path d="M680.8 209.98H797.6"/></g>
<g fill="none" stroke="#ff0000" stroke-width="4.0" stroke-miterlimit="10"><path d="M739 253.74L741.58 261.69L749.94 261.69L743.18 266.6L745.76 274.54L739 269.63L732.24 274.54L734.82 266.6L728.06 261.69L736.42 261.69Z"/></g>
<g fill="none" stroke="#ff0000" stroke-width="5.8" ><path d="M730.75 312.25L747.25 328.75M730.75 328.75L747.25 312.25"/></g>
<g class="lg">
<text x="396.5" y="117.16">SDs of Line 1</text>
<text x="396.5" y="172.42">Line 1</text>
<text x="396.5" y="227.68">SDs of Line 2</text>
<text x="396.5" y="282.94">Line 2</text>
<text x="396.5" y="338.2">SDs of Line 3</text>
<text x="806.5" y="117.16">Line 3</text>
<text x="806.5" y="172.42">SDs of Line 4</text>
<text x="806.5" y="227.68">Line 4</text>
<text x="806.5" y="282.94">ESC</text>
<text x="806.5" y="338.2">UAV</text>
</g>
<g class="tk">
<text transform="translate(356.3 1435.1) scale(1 1.03)" text-anchor="middle">0</text>
<text transform="translate(698.1 1435.1) scale(1 1.03)" text-anchor="middle">500</text>
<text transform="translate(1039.8 1435.1) scale(1 1.03)" text-anchor="middle">1000</text>
<text transform="translate(1381.5 1435.1) scale(1 1.03)" text-anchor="middle">1500</text>
<text transform="translate(1723.2 1435.1) scale(1 1.03)" text-anchor="middle">2000</text>
<text transform="translate(201.7 118.2) scale(1 1.03)" text-anchor="end">1400</text>
<text transform="translate(201.7 267.9) scale(1 1.03)" text-anchor="end">1200</text>
<text transform="translate(201.7 417.6) scale(1 1.03)" text-anchor="end">1000</text>
<text transform="translate(201.7 567.3) scale(1 1.03)" text-anchor="end">800</text>
<text transform="translate(201.7 717) scale(1 1.03)" text-anchor="end">600</text>
<text transform="translate(201.7 866.7) scale(1 1.03)" text-anchor="end">400</text>
<text transform="translate(201.7 1016.4) scale(1 1.03)" text-anchor="end">200</text>
<text transform="translate(201.7 1166.1) scale(1 1.03)" text-anchor="end">0</text>
<text transform="translate(0 1315.8) scale(1 1.03)"><tspan x="97.5" dy="2.5" textLength="34" lengthAdjust="spacingAndGlyphs">−</tspan><tspan x="132.7" dy="-2.5">200</tspan></text>
</g>
<g class="al">
<text x="978" y="1502.8" font-size="51.5" font-style="italic">site</text>
<text x="1048.5" y="1528.5" font-size="44" font-style="italic">x</text>
<text x="1094.3" y="1502.8" font-size="52">(m)</text>
<g transform="translate(51.6 800.5) rotate(-90)">
<text x="0" y="0" font-size="51.5" font-style="italic">site</text>
<text x="72" y="25.5" font-size="44" font-style="italic">y</text>
<text x="115.8" y="0" font-size="52">(m)</text>
</g>
</g>
</svg></body></html>
